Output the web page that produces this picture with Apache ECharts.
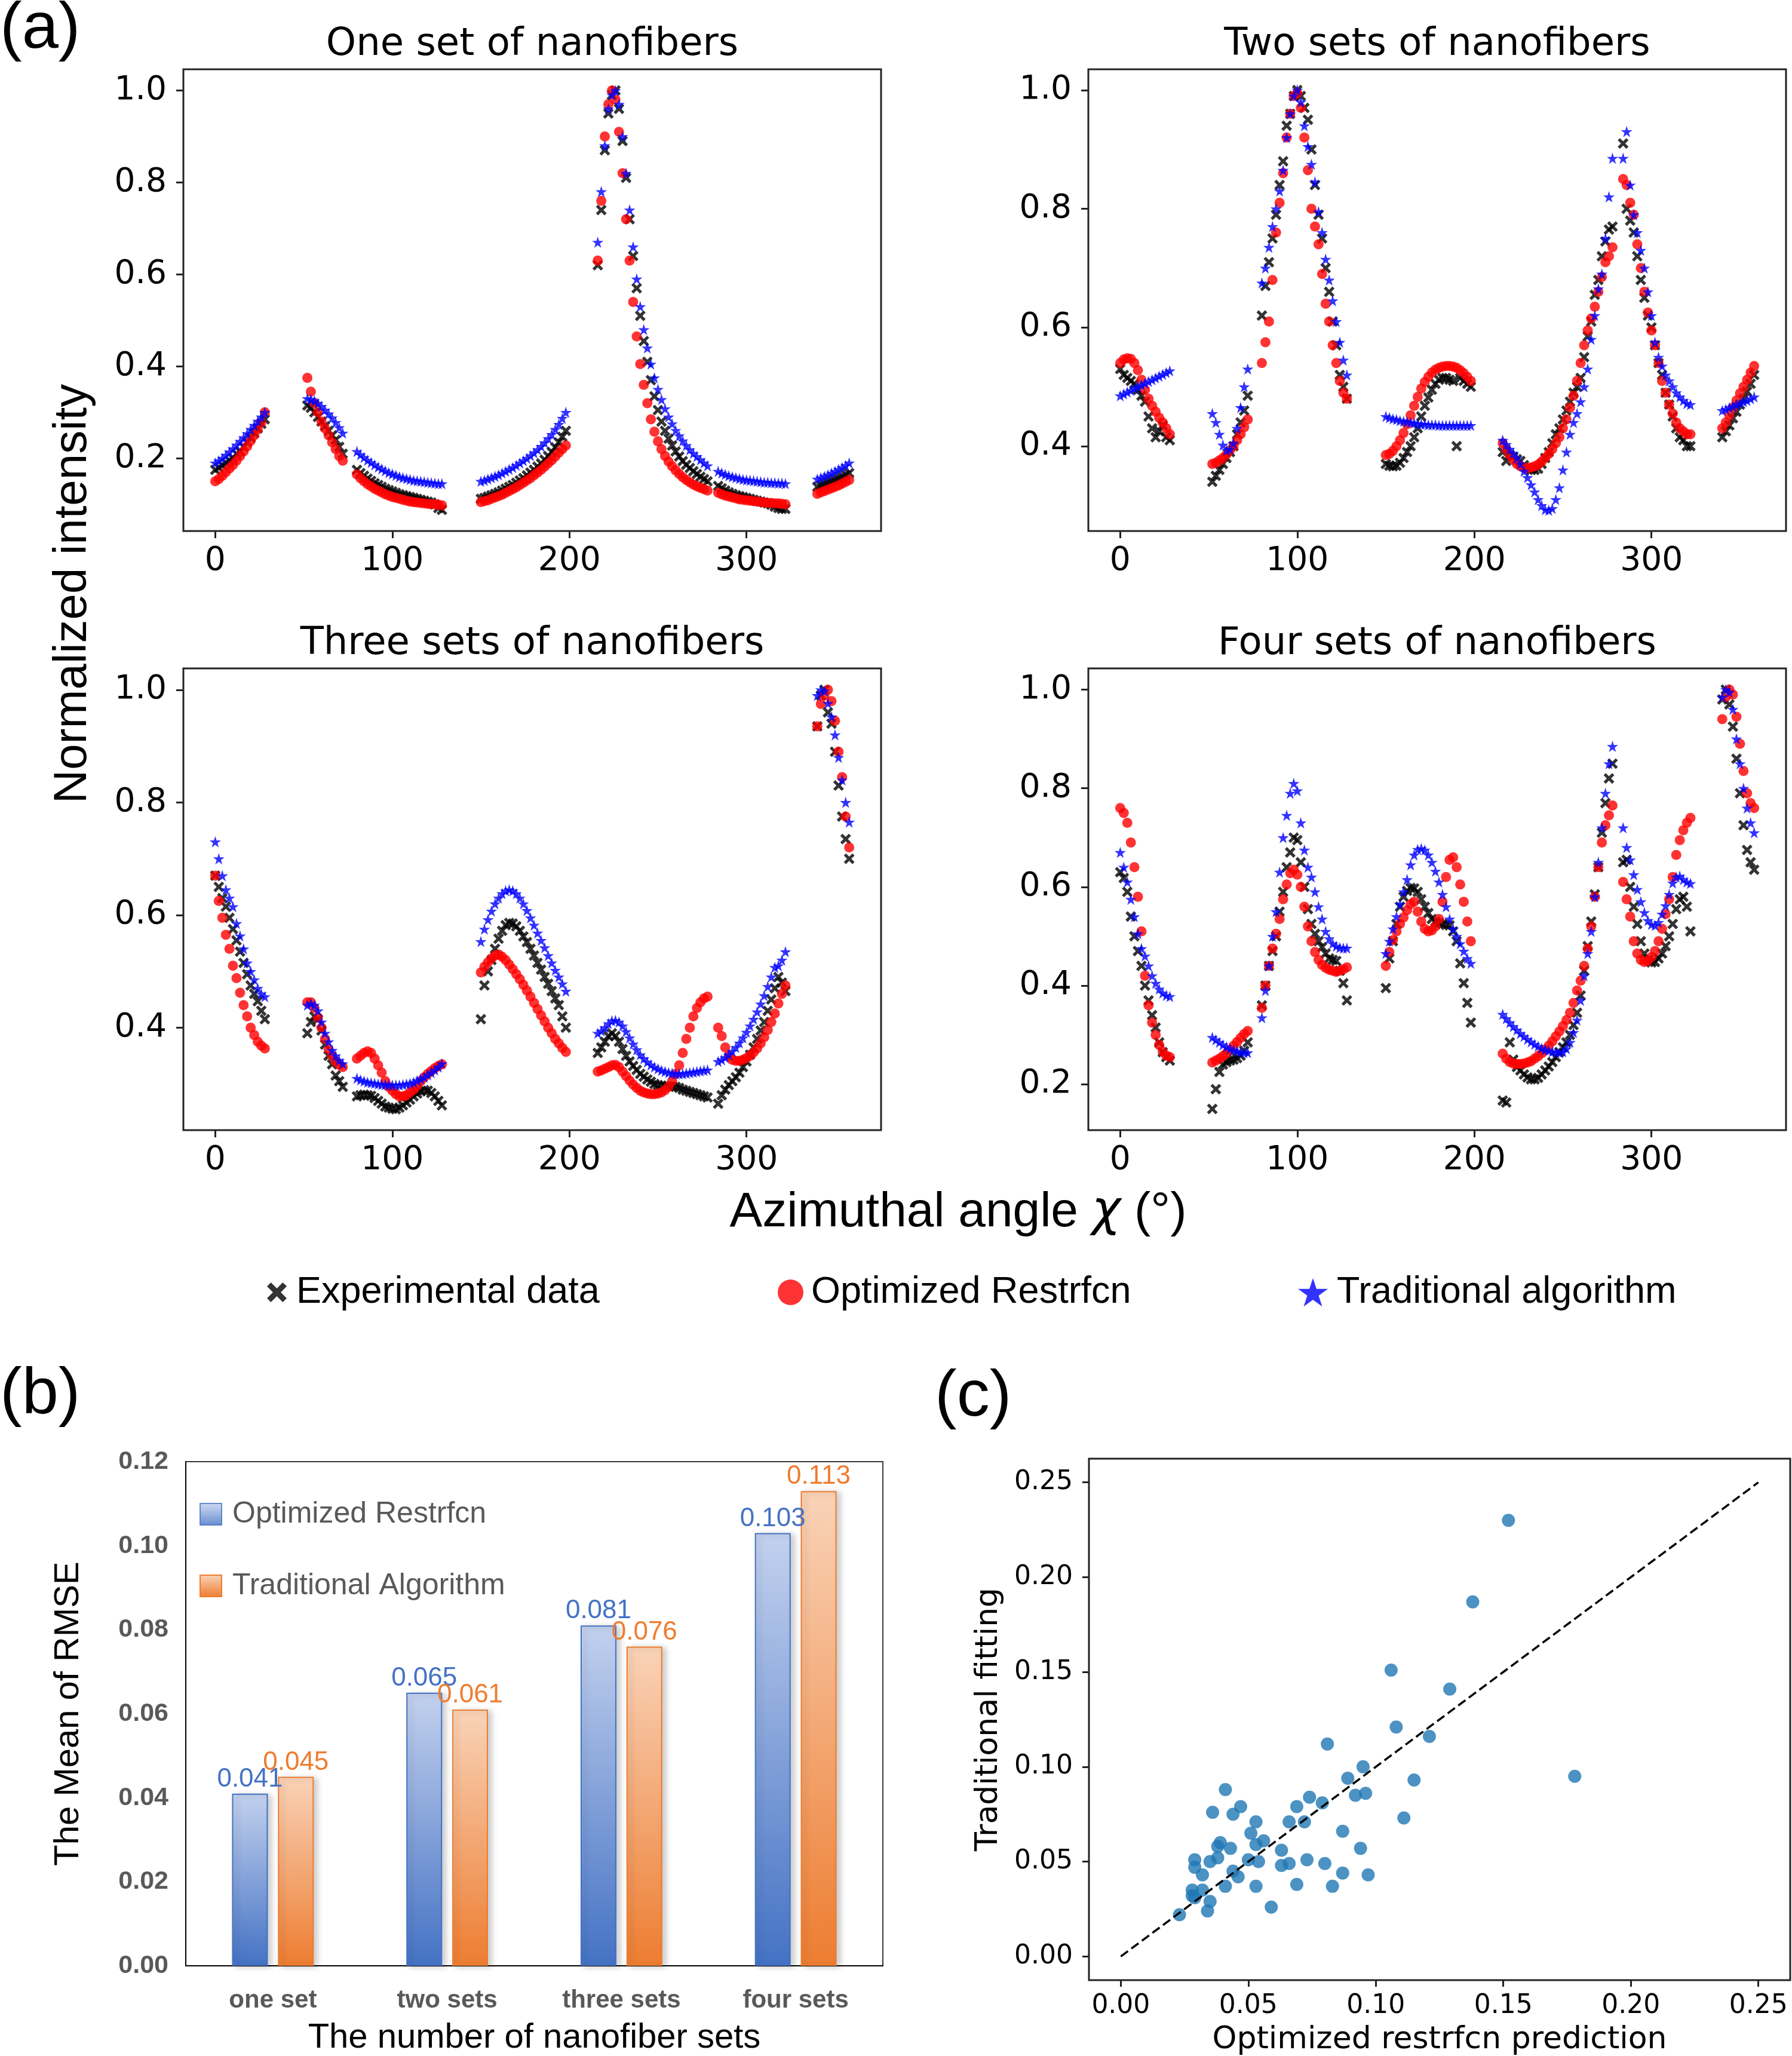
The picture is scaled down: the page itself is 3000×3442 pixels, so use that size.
<!DOCTYPE html>
<html>
<head>
<meta charset="utf-8">
<title>Nanofiber orientation fitting</title>
<script src="https://cdn.jsdelivr.net/npm/echarts@6/dist/echarts.min.js"></script>
<style>
  html, body { margin: 0; padding: 0; background: #fff; }
  #main { width: 3000px; height: 3442px; }
</style>
</head>
<body>
<div id="main"></div>
<script>
// azimuthal angle chi (deg), shared by the four panels of (a)
const angles = [
  0, 2, 4, 6, 8, 10, 12, 14, 16, 18, 20, 22, 24, 26, 28,
  52, 54, 56, 58, 60, 62, 64, 66, 68, 70, 72,
  80, 82, 84, 86, 88, 90, 92, 94, 96, 98, 100, 102, 104, 106, 108, 110, 112, 114, 116, 118, 120, 122, 124, 126, 128,
  150, 152, 154, 156, 158, 160, 162, 164, 166, 168, 170, 172, 174, 176, 178, 180, 182, 184, 186, 188, 190, 192, 194, 196, 198,
  216, 218, 220, 222, 224, 226, 228, 230, 232, 234, 236, 238, 240, 242, 244, 246, 248, 250, 252, 254, 256, 258, 260, 262, 264, 266, 268, 270, 272, 274, 276, 278,
  284, 286, 288, 290, 292, 294, 296, 298, 300, 302, 304, 306, 308, 310, 312, 314, 316, 318, 320, 322,
  340, 342, 344, 346, 348, 350, 352, 354, 356, 358
];

// one set of nanofibers
const expOne = [
  0.175, 0.18, 0.185, 0.19, 0.195, 0.2, 0.21, 0.215, 0.225, 0.235, 0.245, 0.255, 0.265, 0.275, 0.285,
  0.315, 0.31, 0.3, 0.29, 0.28, 0.27, 0.26, 0.25, 0.24, 0.225, 0.21,
  0.175, 0.168, 0.162, 0.156, 0.151, 0.146, 0.142, 0.138, 0.134, 0.131, 0.128, 0.125, 0.122, 0.12, 0.118, 0.116, 0.114, 0.112, 0.11, 0.108, 0.106, 0.104, 0.1, 0.092, 0.088,
  0.112, 0.114, 0.117, 0.12, 0.123, 0.126, 0.13, 0.134, 0.138, 0.142, 0.147, 0.152, 0.157, 0.163, 0.169, 0.175, 0.182, 0.189, 0.197, 0.205, 0.214, 0.224, 0.235, 0.247, 0.26,
  0.62, 0.74, 0.87, 0.95, 0.99, 1.0, 0.96, 0.89, 0.81, 0.72, 0.64, 0.57, 0.51, 0.455, 0.41, 0.37, 0.335, 0.305, 0.28, 0.26, 0.243, 0.228, 0.215, 0.204, 0.194, 0.186, 0.179, 0.172, 0.166, 0.16, 0.155, 0.15,
  0.14, 0.135, 0.13, 0.126, 0.123, 0.12, 0.118, 0.116, 0.114, 0.112, 0.11, 0.108, 0.106, 0.104, 0.102, 0.099, 0.095, 0.092, 0.09, 0.09,
  0.138, 0.141, 0.144, 0.147, 0.15, 0.153, 0.156, 0.16, 0.164, 0.168
];
const optOne = [
  0.15, 0.155, 0.162, 0.17, 0.178, 0.186, 0.195, 0.205, 0.215, 0.226, 0.238, 0.25, 0.263, 0.278, 0.3,
  0.375, 0.345, 0.32, 0.3, 0.28, 0.265, 0.25, 0.235, 0.22, 0.205, 0.195,
  0.165, 0.157, 0.15, 0.144, 0.139, 0.134, 0.13, 0.126, 0.122, 0.119, 0.116, 0.114, 0.112, 0.11, 0.108, 0.106, 0.105, 0.104, 0.103, 0.102, 0.101, 0.1, 0.1, 0.099, 0.098,
  0.105, 0.107, 0.109, 0.112, 0.115, 0.118, 0.121, 0.125, 0.129, 0.133, 0.137, 0.142, 0.147, 0.152, 0.157, 0.163, 0.169, 0.175, 0.182, 0.189, 0.196, 0.204, 0.212, 0.22, 0.228,
  0.63, 0.76, 0.9, 0.97, 1.0, 0.98, 0.91, 0.82, 0.72, 0.63, 0.54, 0.465, 0.405, 0.36, 0.32, 0.285, 0.258, 0.237, 0.22, 0.205, 0.193, 0.183, 0.174, 0.166, 0.159, 0.153, 0.148, 0.143, 0.139, 0.136, 0.133, 0.13,
  0.125, 0.122, 0.119, 0.117, 0.115, 0.113, 0.111, 0.11, 0.109, 0.108, 0.107, 0.106, 0.105, 0.104, 0.103, 0.103, 0.102, 0.102, 0.101, 0.1,
  0.123, 0.126, 0.129, 0.132, 0.135, 0.138, 0.141, 0.145, 0.149, 0.153
];
const tradOne = [
  0.19, 0.195, 0.2, 0.207, 0.214, 0.221, 0.229, 0.237, 0.245, 0.254, 0.263, 0.272, 0.281, 0.29, 0.3,
  0.33, 0.328, 0.325, 0.32, 0.313, 0.305, 0.297, 0.288, 0.278, 0.267, 0.255,
  0.215, 0.208, 0.202, 0.196, 0.191, 0.186, 0.181, 0.177, 0.173, 0.169, 0.166, 0.163, 0.16, 0.158, 0.156, 0.154, 0.152, 0.151, 0.15, 0.149, 0.148, 0.147, 0.146, 0.145, 0.145,
  0.15, 0.152, 0.155, 0.158, 0.161, 0.164, 0.168, 0.172, 0.176, 0.18, 0.185, 0.19, 0.195, 0.2, 0.206, 0.212, 0.219, 0.226, 0.234, 0.243, 0.252, 0.263, 0.274, 0.287, 0.3,
  0.67, 0.78, 0.88, 0.96, 0.99, 1.0, 0.97, 0.9, 0.82, 0.74, 0.66, 0.59, 0.53, 0.48, 0.44, 0.405, 0.375, 0.35, 0.328, 0.308, 0.29, 0.275, 0.261, 0.249, 0.238, 0.228, 0.219, 0.211, 0.204, 0.197, 0.19, 0.184,
  0.172, 0.168, 0.165, 0.162, 0.16, 0.158, 0.156, 0.154, 0.153, 0.152, 0.151, 0.15, 0.149, 0.148, 0.148, 0.147, 0.147, 0.146, 0.146, 0.145,
  0.155, 0.158, 0.161, 0.164, 0.168, 0.172, 0.176, 0.18, 0.185, 0.19
];

// two sets of nanofibers
const expTwo = [
  0.53, 0.52, 0.515, 0.51, 0.505, 0.495, 0.485, 0.475, 0.45, 0.43, 0.415, 0.425, 0.435, 0.415, 0.41,
  0.34, 0.35, 0.36, 0.37, 0.38, 0.39, 0.4, 0.42, 0.44, 0.46, 0.485,
  0.62, 0.67, 0.71, 0.75, 0.79, 0.84, 0.88, 0.94, 0.96, 0.99, 1.0, 0.99, 0.97, 0.95, 0.9, 0.84, 0.79, 0.75, 0.7, 0.66, 0.61, 0.57, 0.52, 0.5, 0.48,
  0.37, 0.367, 0.366, 0.367, 0.372, 0.38, 0.39, 0.4, 0.415, 0.43, 0.45, 0.468, 0.482, 0.495, 0.505, 0.512, 0.515, 0.515, 0.512, 0.51, 0.4, 0.515, 0.51, 0.505, 0.5,
  0.39, 0.375, 0.385, 0.382, 0.378, 0.375, 0.368, 0.363, 0.36, 0.36, 0.362, 0.37, 0.38, 0.39, 0.405, 0.42, 0.43, 0.445, 0.46, 0.475, 0.49, 0.5, 0.515, 0.55, 0.585, 0.61, 0.655, 0.68, 0.72, 0.745, 0.765, 0.77,
  0.91, 0.8, 0.78, 0.76, 0.72, 0.68, 0.65, 0.62, 0.6, 0.57, 0.54, 0.52, 0.49, 0.47, 0.45, 0.43, 0.415, 0.41, 0.4, 0.4,
  0.415, 0.425, 0.435, 0.447, 0.458, 0.47, 0.48, 0.492, 0.505, 0.52
];
const optTwo = [
  0.54, 0.546, 0.548, 0.547, 0.54, 0.528, 0.512, 0.495, 0.48, 0.468, 0.458, 0.448, 0.44, 0.43, 0.42,
  0.37, 0.372, 0.376, 0.38, 0.386, 0.393, 0.4, 0.41, 0.42, 0.432, 0.445,
  0.54, 0.575, 0.61, 0.68, 0.76, 0.81, 0.86, 0.92, 0.96, 0.99, 0.995, 0.97, 0.92, 0.865, 0.8, 0.77, 0.74, 0.69, 0.64, 0.61, 0.57, 0.54, 0.51, 0.49, 0.48,
  0.385, 0.387, 0.392, 0.4, 0.41, 0.422, 0.437, 0.452, 0.468, 0.483, 0.497, 0.508, 0.517, 0.524, 0.529, 0.532, 0.534, 0.535, 0.535, 0.534, 0.532, 0.528, 0.523, 0.517, 0.51,
  0.405, 0.395, 0.385, 0.377, 0.37, 0.366, 0.364, 0.363, 0.364, 0.366, 0.369, 0.374, 0.38, 0.387, 0.395, 0.405, 0.415, 0.43, 0.445, 0.465, 0.485, 0.51, 0.54, 0.57, 0.595, 0.615, 0.635, 0.66, 0.685, 0.71, 0.72, 0.735,
  0.85, 0.84, 0.81, 0.79, 0.74, 0.7, 0.66, 0.625, 0.595, 0.57, 0.54, 0.51, 0.49, 0.47, 0.455, 0.44, 0.43, 0.425, 0.42, 0.42,
  0.43, 0.44, 0.452, 0.465, 0.477, 0.489, 0.5, 0.512, 0.524, 0.535
];
const tradTwo = [
  0.485, 0.488, 0.491, 0.494, 0.497, 0.5, 0.503, 0.506, 0.509, 0.512, 0.515, 0.518, 0.521, 0.524, 0.527,
  0.455, 0.44, 0.42, 0.402, 0.393, 0.395, 0.405, 0.43, 0.465, 0.5, 0.53,
  0.675, 0.7, 0.735, 0.77, 0.8, 0.83, 0.865, 0.92, 0.96, 0.99, 1.0, 0.98, 0.94, 0.905, 0.875, 0.845, 0.795, 0.76, 0.715, 0.68, 0.645, 0.61, 0.575, 0.545, 0.52,
  0.45, 0.448, 0.446, 0.445, 0.443, 0.442, 0.441, 0.44, 0.439, 0.438, 0.437, 0.437, 0.436, 0.436, 0.436, 0.435, 0.435, 0.435, 0.435, 0.435, 0.435, 0.435, 0.435, 0.435, 0.435,
  0.41, 0.403, 0.395, 0.388, 0.38, 0.37, 0.358, 0.347, 0.335, 0.323, 0.31, 0.3, 0.293, 0.292, 0.295, 0.31, 0.33, 0.36, 0.39, 0.42, 0.44, 0.455, 0.475, 0.5, 0.53, 0.58, 0.62, 0.665, 0.69, 0.75, 0.82, 0.885,
  0.885, 0.93, 0.84, 0.79, 0.76, 0.73, 0.7, 0.66, 0.62, 0.575, 0.55, 0.535, 0.52, 0.51, 0.5, 0.49, 0.483, 0.477, 0.472, 0.47,
  0.46, 0.462, 0.465, 0.467, 0.47, 0.472, 0.475, 0.477, 0.48, 0.483
];

// three sets of nanofibers
const expThree = [
  0.67, 0.65, 0.63, 0.615, 0.595, 0.575, 0.555, 0.535, 0.515, 0.495, 0.475, 0.46, 0.447, 0.43, 0.415,
  0.39, 0.41, 0.42, 0.415, 0.395, 0.37, 0.35, 0.335, 0.315, 0.305, 0.295,
  0.278, 0.28, 0.281, 0.28, 0.279, 0.275, 0.27, 0.265, 0.26, 0.258, 0.256, 0.255, 0.258, 0.262, 0.267, 0.272, 0.278, 0.283, 0.287, 0.289, 0.288, 0.284, 0.278, 0.27, 0.262,
  0.415, 0.475, 0.5, 0.52, 0.54, 0.558, 0.572, 0.582, 0.586, 0.585, 0.58, 0.572, 0.562, 0.552, 0.54, 0.528, 0.515, 0.503, 0.49, 0.478, 0.465, 0.452, 0.44, 0.42, 0.4,
  0.355, 0.365, 0.375, 0.385, 0.39, 0.385, 0.375, 0.362, 0.35, 0.34, 0.332, 0.325, 0.318, 0.313, 0.308, 0.304, 0.3, 0.298, 0.297, 0.296, 0.296, 0.296, 0.295, 0.293, 0.29, 0.288, 0.286, 0.284, 0.282, 0.28, 0.278, 0.276,
  0.265, 0.28, 0.29, 0.298, 0.305, 0.312, 0.32, 0.33, 0.34, 0.352, 0.365, 0.38, 0.395, 0.41, 0.43, 0.45, 0.47, 0.49, 0.48, 0.465,
  0.935, 0.99, 1.0, 0.96, 0.94, 0.89, 0.83, 0.775, 0.735, 0.7
];
const optThree = [
  0.67, 0.625, 0.595, 0.565, 0.54, 0.51, 0.488, 0.462, 0.44, 0.42, 0.4, 0.387, 0.375, 0.368, 0.363,
  0.445, 0.445, 0.435, 0.418, 0.4, 0.38, 0.362, 0.35, 0.34, 0.334, 0.33,
  0.345, 0.35, 0.355, 0.358, 0.355, 0.345, 0.333, 0.32, 0.305, 0.295, 0.288, 0.282, 0.278, 0.278, 0.28, 0.285, 0.29, 0.297, 0.305, 0.312, 0.318, 0.323, 0.328, 0.332, 0.335,
  0.498, 0.508, 0.516, 0.523, 0.528, 0.53, 0.526, 0.52, 0.512, 0.504, 0.495, 0.486, 0.476, 0.466, 0.455, 0.444, 0.433, 0.422, 0.411, 0.4, 0.39, 0.38, 0.372, 0.364, 0.357,
  0.322, 0.324, 0.327, 0.33, 0.333, 0.334, 0.33, 0.322, 0.314, 0.306, 0.299, 0.293, 0.288, 0.285, 0.283, 0.282, 0.282, 0.283, 0.285, 0.289, 0.295, 0.305, 0.318, 0.333, 0.355, 0.38, 0.4, 0.42, 0.435, 0.445, 0.452, 0.455,
  0.4, 0.385, 0.365, 0.35, 0.343, 0.341, 0.341, 0.343, 0.346, 0.35, 0.356, 0.363, 0.372, 0.383, 0.396, 0.41, 0.425, 0.443, 0.46, 0.475,
  0.935, 0.975, 0.99, 1.0, 0.98, 0.945, 0.89, 0.845, 0.775, 0.72
];
const tradThree = [
  0.73, 0.7, 0.67, 0.645, 0.63, 0.615, 0.585, 0.563, 0.54, 0.515, 0.5, 0.485, 0.47, 0.46, 0.455,
  0.44, 0.443, 0.44, 0.43, 0.41, 0.39, 0.375, 0.36, 0.35, 0.342, 0.336,
  0.31, 0.307, 0.305, 0.303, 0.302, 0.301, 0.3, 0.299, 0.299, 0.298, 0.298, 0.298, 0.298, 0.299, 0.3, 0.301, 0.303, 0.306, 0.309, 0.312, 0.316, 0.32, 0.325, 0.33, 0.336,
  0.553, 0.575, 0.592, 0.607, 0.62, 0.63, 0.638, 0.643, 0.645, 0.643, 0.638, 0.63, 0.62, 0.608, 0.595, 0.582, 0.568, 0.555, 0.542, 0.528, 0.515, 0.502, 0.49, 0.478, 0.465,
  0.39, 0.394, 0.4, 0.407, 0.412, 0.413, 0.41, 0.403, 0.393, 0.382, 0.371, 0.361, 0.352, 0.345, 0.339, 0.334, 0.33, 0.327, 0.324, 0.322, 0.32, 0.319, 0.318, 0.318, 0.318, 0.319, 0.32, 0.321, 0.322, 0.323, 0.324, 0.325,
  0.34, 0.343, 0.347, 0.352, 0.358, 0.365, 0.373, 0.382, 0.392, 0.403, 0.415, 0.428, 0.442, 0.457, 0.473, 0.49, 0.507, 0.51, 0.52, 0.535,
  0.99, 1.0, 0.998, 0.976, 0.952, 0.92, 0.88, 0.84, 0.8, 0.765
];

// four sets of nanofibers
const expFour = [
  0.63, 0.618, 0.59, 0.54, 0.5, 0.47, 0.44, 0.4, 0.37, 0.34, 0.315, 0.285, 0.265, 0.255, 0.248,
  0.15, 0.19, 0.225, 0.24, 0.245, 0.248, 0.25, 0.253, 0.258, 0.268, 0.285,
  0.36, 0.4, 0.44, 0.47, 0.5, 0.55, 0.59, 0.64, 0.67, 0.7, 0.695, 0.65, 0.6, 0.555, 0.525, 0.505, 0.49, 0.478, 0.465, 0.455, 0.452, 0.45, 0.43, 0.405, 0.37,
  0.395, 0.455, 0.49, 0.525, 0.56, 0.58, 0.592, 0.598, 0.597, 0.59, 0.575, 0.56, 0.547, 0.535, 0.53, 0.527, 0.525, 0.523, 0.522, 0.51, 0.49, 0.445, 0.405, 0.365, 0.325,
  0.167, 0.163, 0.285, 0.25, 0.235, 0.228, 0.22, 0.214, 0.21, 0.21, 0.213, 0.22, 0.228, 0.236, 0.245, 0.255, 0.265, 0.275, 0.285, 0.3, 0.32, 0.345, 0.38, 0.43, 0.48, 0.53, 0.585, 0.64, 0.71, 0.77, 0.82, 0.85,
  0.65, 0.655, 0.6, 0.56, 0.525, 0.49, 0.465, 0.452, 0.447, 0.448, 0.455, 0.465, 0.48, 0.5, 0.525, 0.555, 0.575, 0.58, 0.56, 0.51,
  0.98, 1.0, 0.97, 0.925, 0.86, 0.79, 0.725, 0.675, 0.65, 0.635
];
const optFour = [
  0.76, 0.75, 0.73, 0.69, 0.64, 0.58, 0.51, 0.42, 0.36, 0.325, 0.3, 0.28, 0.266, 0.258, 0.255,
  0.244, 0.248, 0.252, 0.257, 0.263, 0.27, 0.278, 0.286, 0.294, 0.302, 0.308,
  0.355, 0.4, 0.44, 0.475, 0.505, 0.535, 0.575, 0.605, 0.628, 0.635, 0.625, 0.6, 0.56, 0.52, 0.49, 0.468, 0.452, 0.442, 0.436, 0.432, 0.43, 0.428, 0.43, 0.433, 0.437,
  0.44, 0.468, 0.492, 0.51, 0.525, 0.538, 0.553, 0.565, 0.57, 0.55, 0.53, 0.515, 0.51, 0.512, 0.52, 0.535, 0.57, 0.62, 0.655, 0.66, 0.64, 0.605, 0.57, 0.53, 0.49,
  0.262, 0.252, 0.245, 0.242, 0.241, 0.241, 0.242, 0.244, 0.247, 0.252, 0.257, 0.263, 0.27, 0.278, 0.287, 0.297, 0.307, 0.318, 0.33, 0.345, 0.365, 0.39, 0.41, 0.44, 0.475, 0.52, 0.58, 0.64, 0.69, 0.725, 0.745, 0.765,
  0.61, 0.575, 0.54, 0.49, 0.465, 0.452, 0.448, 0.45, 0.458, 0.47, 0.49, 0.515, 0.545, 0.575, 0.62, 0.665, 0.695, 0.715, 0.73, 0.74,
  0.94, 0.985, 1.0, 0.99, 0.945, 0.89, 0.835, 0.79, 0.77, 0.76
];
const tradFour = [
  0.67, 0.64, 0.61, 0.575, 0.54, 0.505, 0.475, 0.46, 0.44, 0.42, 0.405, 0.393, 0.385, 0.38, 0.378,
  0.295, 0.29, 0.285, 0.28, 0.276, 0.272, 0.269, 0.267, 0.265, 0.264, 0.264,
  0.335, 0.39, 0.44, 0.5, 0.55, 0.63, 0.7, 0.745, 0.79, 0.81, 0.795, 0.73, 0.675, 0.64, 0.62, 0.59, 0.56, 0.535, 0.51, 0.495, 0.485, 0.48, 0.477, 0.476, 0.476,
  0.465, 0.49, 0.515, 0.54, 0.565, 0.59, 0.615, 0.645, 0.665, 0.676, 0.678, 0.675, 0.665, 0.65, 0.632, 0.61, 0.585, 0.56, 0.535, 0.515, 0.5, 0.485, 0.47, 0.455, 0.445,
  0.342, 0.333, 0.325, 0.317, 0.31, 0.303, 0.297, 0.291, 0.286, 0.281, 0.277, 0.273, 0.27, 0.268, 0.266, 0.265, 0.264, 0.266, 0.272, 0.285, 0.305, 0.33, 0.37, 0.42, 0.465, 0.51, 0.58, 0.65, 0.72, 0.79, 0.85, 0.885,
  0.72, 0.68, 0.655, 0.625, 0.595, 0.57, 0.548, 0.532, 0.524, 0.522, 0.528, 0.545, 0.562, 0.585, 0.608, 0.62, 0.622, 0.615, 0.61, 0.607,
  0.985, 1.0, 0.995, 0.96, 0.9, 0.85, 0.8, 0.76, 0.73, 0.71
];

// (b) mean RMSE per number of nanofiber sets
const setNames = ['one set', 'two sets', 'three sets', 'four sets'];
const rmseOptMean = [0.041, 0.065, 0.081, 0.103];
const rmseTradMean = [0.045, 0.061, 0.076, 0.113];

// (c) RMSE per sample: optimized restrfcn vs traditional fitting
const rmseOpt = [
  0.152, 0.138, 0.106, 0.129, 0.108, 0.121, 0.081, 0.178, 0.095, 0.089, 0.115, 0.092, 0.096, 0.041, 0.074,
  0.069, 0.079, 0.047, 0.036, 0.044, 0.053, 0.066, 0.072, 0.111, 0.087, 0.051, 0.039, 0.056, 0.053, 0.038,
  0.043, 0.063, 0.094, 0.035, 0.029, 0.038, 0.05, 0.054, 0.063, 0.066, 0.073, 0.08, 0.029, 0.032, 0.044,
  0.046, 0.087, 0.097, 0.041, 0.053, 0.069, 0.083, 0.028, 0.032, 0.028, 0.035, 0.034, 0.059, 0.023, 0.029
];
const rmseTrad = [
  0.23, 0.187, 0.151, 0.141, 0.121, 0.116, 0.112, 0.095, 0.1, 0.094, 0.093, 0.085, 0.086, 0.088, 0.084,
  0.079, 0.081, 0.079, 0.076, 0.075, 0.071, 0.071, 0.071, 0.073, 0.066, 0.065, 0.06, 0.061, 0.059, 0.058,
  0.057, 0.056, 0.057, 0.05, 0.051, 0.052, 0.051, 0.05, 0.048, 0.049, 0.051, 0.049, 0.047, 0.043, 0.045,
  0.042, 0.044, 0.043, 0.037, 0.037, 0.038, 0.037, 0.032, 0.035, 0.035, 0.029, 0.024, 0.026, 0.022, 0.031
];
const diagLine = [[0, 0], [0.25, 0.25]];

const X_ICON = 'path://M0,2L2,0L5,3L8,0L10,2L7,5L10,8L8,10L5,7L2,10L0,8L3,5Z';
const STAR_ICON = 'path://M50,2L61.2,36.5L97.5,36.5L68.2,57.9L79.4,92.5L50,71.1L20.6,92.5L31.8,57.9L2.5,36.5L38.8,36.5Z';
const MPL = 'DejaVu Sans';
const ARIAL = 'Liberation Sans, Arial';

const panels = [
  { title: 'One set of nanofibers', left: 307, top: 116, yMin: 0.042, yMax: 1.046, yTicks: [0.2, 0.4, 0.6, 0.8, 1.0], exp: expOne, opt: optOne, trad: tradOne },
  { title: 'Two sets of nanofibers', left: 1822, top: 116, yMin: 0.257, yMax: 1.035, yTicks: [0.4, 0.6, 0.8, 1.0], exp: expTwo, opt: optTwo, trad: tradTwo },
  { title: 'Three sets of nanofibers', left: 307, top: 1119, yMin: 0.218, yMax: 1.038, yTicks: [0.4, 0.6, 0.8, 1.0], exp: expThree, opt: optThree, trad: tradThree },
  { title: 'Four sets of nanofibers', left: 1822, top: 1119, yMin: 0.107, yMax: 1.043, yTicks: [0.2, 0.4, 0.6, 0.8, 1.0], exp: expFour, opt: optFour, trad: tradFour }
];
const PW = 1168, PH = 773;

const toPts = ys => angles.map((a, i) => [a, ys[i]]);

const grids = [], xAxes = [], yAxes = [], series = [], graphics = [];
const tickStyle = { color: '#222', width: 3 };
const noLine = { show: false, onZero: false };

panels.forEach((p, i) => {
  grids.push({ left: p.left, top: p.top, width: PW, height: PH, show: true, borderColor: '#222', borderWidth: 3 });
  xAxes.push({
    type: 'value', gridIndex: i, min: -18, max: 376,
    axisLine: noLine, splitLine: { show: false },
    axisTick: { length: 12, lineStyle: tickStyle, customValues: [0, 100, 200, 300] },
    axisLabel: { customValues: [0, 100, 200, 300], fontFamily: MPL, fontSize: 55, color: '#000', margin: 23 }
  });
  yAxes.push({
    type: 'value', gridIndex: i, min: p.yMin, max: p.yMax,
    axisLine: noLine, splitLine: { show: false },
    axisTick: { length: 12, lineStyle: tickStyle, customValues: p.yTicks },
    axisLabel: { customValues: p.yTicks, fontFamily: MPL, fontSize: 55, color: '#000', margin: 28,
      formatter: v => v.toFixed(1) }
  });
  series.push(
    { type: 'scatter', name: 'Experimental data', xAxisIndex: i, yAxisIndex: i, data: toPts(p.exp),
      symbol: X_ICON, symbolSize: 18, itemStyle: { color: '#000' } },
    { type: 'scatter', name: 'Optimized Restrfcn', xAxisIndex: i, yAxisIndex: i, data: toPts(p.opt),
      symbol: 'circle', symbolSize: 17, itemStyle: { color: '#ff0000' } },
    { type: 'scatter', name: 'Traditional algorithm', xAxisIndex: i, yAxisIndex: i, data: toPts(p.trad),
      symbol: STAR_ICON, symbolSize: 19, itemStyle: { color: '#0000ff' } }
  );
  graphics.push({ type: 'text', x: p.left + PW / 2, y: p.top - 41,
    style: { text: p.title, fontFamily: MPL, fontSize: 64, fill: '#000', align: 'center', verticalAlign: 'middle' } });
});

// (b) bar chart
const blueGrad = new echarts.graphic.LinearGradient(0, 0, 0, 1, [
  { offset: 0, color: '#c3d1ee' }, { offset: 1, color: '#4472c4' }]);
const orangeGrad = new echarts.graphic.LinearGradient(0, 0, 0, 1, [
  { offset: 0, color: '#f9d3b8' }, { offset: 1, color: '#ed7d31' }]);
const barShadow = { shadowColor: 'rgba(0,0,0,0.2)', shadowBlur: 10, shadowOffsetX: 6, shadowOffsetY: 2 };

grids.push({ left: 311, top: 2447, width: 1167, height: 851, show: true, borderColor: '#3a3a3a', borderWidth: 2 });
xAxes.push({
  type: 'category', gridIndex: 4, data: setNames,
  axisLine: { lineStyle: { color: '#000', width: 2 } },
  axisTick: { length: 18, lineStyle: { color: '#000', width: 2 } },
  axisLabel: { fontFamily: ARIAL, fontWeight: 'bold', fontSize: 42, color: '#595959', margin: 37 },
  name: 'The number of nanofiber sets', nameLocation: 'middle', nameGap: 92,
  nameTextStyle: { fontFamily: ARIAL, fontSize: 58, color: '#000' }
});
yAxes.push({
  type: 'value', gridIndex: 4, min: 0, max: 0.12, interval: 0.02,
  axisLine: { show: true, onZero: false, lineStyle: { color: '#000', width: 2 } },
  axisTick: { show: false }, splitLine: { show: false },
  axisLabel: { fontFamily: ARIAL, fontWeight: 'bold', fontSize: 43, color: '#595959', margin: 29,
    formatter: v => v.toFixed(2) },
  name: 'The Mean of RMSE', nameLocation: 'middle', nameGap: 167,
  nameTextStyle: { fontFamily: ARIAL, fontSize: 58, color: '#000' }
});
series.push(
  { type: 'bar', name: 'Optimized Restrfcn', xAxisIndex: 4, yAxisIndex: 4, data: rmseOptMean,
    barWidth: 60, barGap: '28%',
    itemStyle: Object.assign({ color: blueGrad, borderColor: '#4472c4', borderWidth: 2 }, barShadow),
    label: { show: true, position: 'top', distance: 2, color: '#4472c4', fontFamily: ARIAL, fontSize: 44,
      formatter: p => p.value.toFixed(3) } },
  { type: 'bar', name: 'Traditional Algorithm', xAxisIndex: 4, yAxisIndex: 4, data: rmseTradMean,
    barWidth: 60, barGap: '28%',
    itemStyle: Object.assign({ color: orangeGrad, borderColor: '#ed7d31', borderWidth: 2 }, barShadow),
    label: { show: true, position: 'top', distance: 2, color: '#ed7d31', fontFamily: ARIAL, fontSize: 44,
      formatter: p => p.value.toFixed(3) } }
);

// (c) scatter
const cTicks = [0, 0.05, 0.1, 0.15, 0.2, 0.25];
grids.push({ left: 1823, top: 2442, width: 1174, height: 875, show: true, borderColor: '#222', borderWidth: 3 });
xAxes.push({
  type: 'value', gridIndex: 5, min: -0.0125, max: 0.2625,
  axisLine: noLine, splitLine: { show: false },
  axisTick: { length: 11, lineStyle: tickStyle, customValues: cTicks },
  axisLabel: { customValues: cTicks, fontFamily: MPL, fontSize: 44, color: '#000', margin: 22, formatter: v => v.toFixed(2) },
  name: 'Optimized restrfcn prediction', nameLocation: 'middle', nameGap: 74,
  nameTextStyle: { fontFamily: MPL, fontSize: 52, color: '#000' }
});
yAxes.push({
  type: 'value', gridIndex: 5, min: -0.0125, max: 0.2625,
  axisLine: noLine, splitLine: { show: false },
  axisTick: { length: 11, lineStyle: tickStyle, customValues: cTicks },
  axisLabel: { customValues: cTicks, fontFamily: MPL, fontSize: 44, color: '#000', margin: 27, formatter: v => v.toFixed(2) },
  name: 'Traditional fitting', nameLocation: 'middle', nameGap: 142,
  nameTextStyle: { fontFamily: MPL, fontSize: 52, color: '#000' }
});
series.push(
  { type: 'line', xAxisIndex: 5, yAxisIndex: 5, data: diagLine, symbol: 'none',
    lineStyle: { color: '#000', width: 3.5, type: [15, 7] } },
  { type: 'scatter', xAxisIndex: 5, yAxisIndex: 5, data: rmseOpt.map((v, i) => [v, rmseTrad[i]]),
    symbol: 'circle', symbolSize: 22, itemStyle: { color: '#1f77b4' } }
);

// panel labels and shared axis titles of (a)
graphics.push(
  { type: 'text', x: 0, y: 50, style: { text: '(a)', fontFamily: ARIAL, fontSize: 110, fill: '#000', verticalAlign: 'middle' } },
  { type: 'text', x: 0, y: 2336, style: { text: '(b)', fontFamily: ARIAL, fontSize: 110, fill: '#000', verticalAlign: 'middle' } },
  { type: 'text', x: 1565, y: 2340, style: { text: '(c)', fontFamily: ARIAL, fontSize: 110, fill: '#000', verticalAlign: 'middle' } },
  { type: 'text', x: 122, y: 994, rotation: Math.PI / 2,
    style: { text: 'Normalized intensity', fontFamily: ARIAL, fontSize: 78, fill: '#000', align: 'center', verticalAlign: 'middle' } },
  { type: 'text', x: 1604, y: 2030,
    style: { text: 'Azimuthal angle {i|χ} (°)', fontFamily: ARIAL, fontSize: 82, fill: '#000', align: 'center', verticalAlign: 'middle',
      rich: { i: { fontFamily: 'DejaVu Sans', fontStyle: 'italic', fontSize: 82, fill: '#000' } } } }
);

const legendText = { fontFamily: ARIAL, fontSize: 63, color: '#000' };
const option = {
  animation: false,
  backgroundColor: '#fff',
  grid: grids,
  xAxis: xAxes,
  yAxis: yAxes,
  series: series,
  graphic: graphics,
  legend: [
    { left: 447, top: 2132, padding: 0, itemWidth: 33, itemHeight: 33, selectedMode: false,
      textStyle: Object.assign({ padding: [0, 0, 0, 11] }, legendText),
      data: [{ name: 'Experimental data', icon: X_ICON, itemStyle: { color: '#000' } }] },
    { left: 1302, top: 2132, padding: 0, itemWidth: 43, itemHeight: 43, selectedMode: false,
      textStyle: Object.assign({ padding: [0, 0, 0, 8] }, legendText),
      data: [{ name: 'Optimized Restrfcn', icon: 'circle', itemStyle: { color: '#ff0000' } }] },
    { left: 2173, top: 2132, padding: 0, itemWidth: 50, itemHeight: 48, selectedMode: false,
      textStyle: Object.assign({ padding: [0, 0, 0, 10] }, legendText),
      data: [{ name: 'Traditional algorithm', icon: STAR_ICON, itemStyle: { color: '#0000ff' } }] },
    { left: 334, top: 2510, padding: 0, orient: 'vertical', itemWidth: 36, itemHeight: 36, itemGap: 70, selectedMode: false,
      textStyle: { fontFamily: ARIAL, fontSize: 50, color: '#595959', padding: [0, 0, 0, 13] },
      data: [
        { name: 'Optimized Restrfcn', icon: 'rect', itemStyle: { color: blueGrad, borderColor: '#4472c4', borderWidth: 2 } },
        { name: 'Traditional Algorithm', icon: 'rect', itemStyle: { color: orangeGrad, borderColor: '#ed7d31', borderWidth: 2 } }
      ] }
  ]
};

const chart = echarts.init(document.getElementById('main'));
chart.setOption(option);
</script>
</body>
</html>
